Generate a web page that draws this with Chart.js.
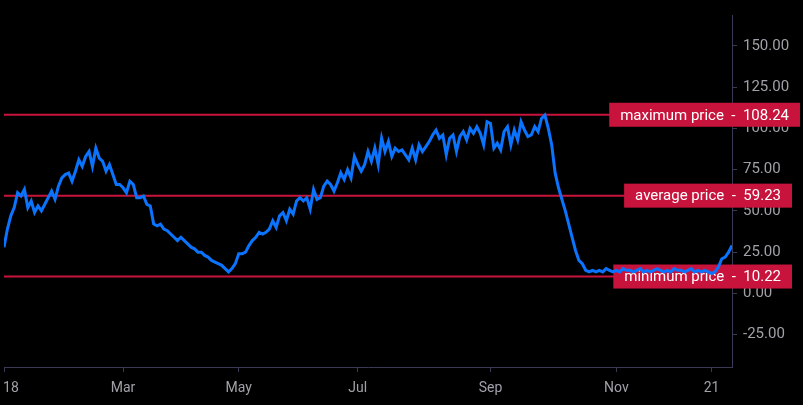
<!DOCTYPE html>
<html lang="en">
<head>
    <meta charset="UTF-8">
    <title>Price chart</title>
    <script src="https://cdn.jsdelivr.net/npm/chart.js"></script>
    <style>
        body { margin: 0; background: #fff; }
        .chart-container { width: 803px; height: 405px; background: #000; }
    </style>
</head>
<body>
    <div class="chart-container">
        <canvas id="chart"></canvas>
    </div>
    <script>
        var prices = [
            28,39,47,52,61,59,63,52,56,49,53,50,54,58,62,57,65,70,72,73,
            68,74,81,77,83,86,77,88,82,80,74,78,72,66,66,64,61,68,66,58,
            58,59,54,53,42,41,42,39,38,36,34,32,34,32,30,28,27,25,25,23,
            22,20,19,18,17,15,13,15,18,24,24,25,29,32,34,37,
            36,37,39,44,40,47,49,44,51,48,56,58,56,58,51,63,57,58,65,68,
            66,62,67,73,69,75,70,83,78,74,78,86,80,88,78,94,86,92,83,88,
            86,87,84,81,88,81,90,86,89,92,96,99,94,96,84,94,96,86,95,98,
            93,100,97,101,97,90,104,103,88,91,87,98,101,90,99,93,104,99,95,96,
            101,98,106,108,100,90,73,64,57,
            50,42,34,26,20,18,14,13,14,
            13,14,13,15,14,13,14,13,15,14,14,13,14,15,13,14,13,14,15,14,
            13,14,13,15,14,14,13,14,15,13,14,13,14,13,12,13,
            16,21,22,25,29
        ];
        var tickLabels = ['    18', 'Mar', 'May', 'Jul', 'Sep', 'Nov', '21'];
        var tickIndex = [0, 35, 69, 104, 143, 180, 208];
        var yTicks = [-25, 0, 25, 50, 75, 100, 125, 150];
        var refNames = ['maximum price', 'average price', 'minimum price'];
        var refValues = [108.24, 59.23, 10.22];

        // red reference lines with labels, drawn under the price line
        var refLines = {
            id: 'refLines',
            beforeDatasetsDraw: function(chart) {
                var ctx = chart.ctx, y = chart.scales.y, area = chart.chartArea;
                ctx.save();
                ctx.font = '15px Roboto';
                for (var i = 0; i < refValues.length; i++) {
                    var py = y.getPixelForValue(refValues[i]);
                    ctx.strokeStyle = '#c8143c';
                    ctx.lineWidth = 2;
                    ctx.beginPath();
                    ctx.moveTo(area.left, py);
                    ctx.lineTo(area.right, py);
                    ctx.stroke();
                    var text = refNames[i] + '  -  ' + refValues[i].toFixed(2);
                    var w = ctx.measureText(text).width + 22;
                    var right = i === 0 ? 800 : 792;
                    ctx.fillStyle = '#c8143c';
                    ctx.fillRect(right - w, py - 12, w, 24);
                    ctx.fillStyle = '#fff';
                    ctx.textBaseline = 'middle';
                    ctx.textAlign = 'right';
                    ctx.fillText(text, right - 11, py + 1);
                }
                ctx.restore();
            }
        };

        new Chart(document.getElementById('chart'), {
            type: 'line',
            data: {
                datasets: [{
                    data: prices.map(function(p, i) { return { x: i, y: p }; }),
                    borderColor: '#0a74ff',
                    borderWidth: 3,
                    pointRadius: 0,
                    tension: 0
                }]
            },
            options: {
                responsive: true,
                maintainAspectRatio: false,
                animation: false,
                layout: { padding: { left: 4, top: 0 } },
                plugins: { legend: { display: false }, tooltip: { enabled: false } },
                scales: {
                    x: {
                        type: 'linear',
                        min: 0,
                        max: prices.length - 1,
                        afterBuildTicks: function(s) { s.ticks = tickIndex.map(function(v) { return { value: v }; }); },
                        afterFit: function(s) { s.height = 38; s.paddingLeft = 0; s.paddingRight = 0; },
                        ticks: {
                            color: '#a0a0a8',
                            font: { family: 'Roboto', size: 14 },
                            maxRotation: 0,
                            autoSkip: false,
                            padding: 8,
                            callback: function(v) { return tickLabels[tickIndex.indexOf(v)]; }
                        },
                        grid: { drawOnChartArea: false, color: '#3a3a55', tickLength: 5 },
                        border: { color: '#3a3a55' }
                    },
                    y: {
                        position: 'right',
                        min: -44.6,
                        max: 168.7,
                        afterBuildTicks: function(s) { s.ticks = yTicks.map(function(v) { return { value: v }; }); },
                        afterFit: function(s) { s.width = 71; },
                        ticks: {
                            color: '#a0a0a8',
                            font: { family: 'Roboto', size: 15 },
                            padding: 6,
                            callback: function(v) { return v.toFixed(2); }
                        },
                        grid: { drawOnChartArea: false, color: '#3a3a55', tickLength: 5 },
                        border: { color: '#3a3a55' }
                    }
                }
            },
            plugins: [refLines]
        });
    </script>
</body>
</html>
